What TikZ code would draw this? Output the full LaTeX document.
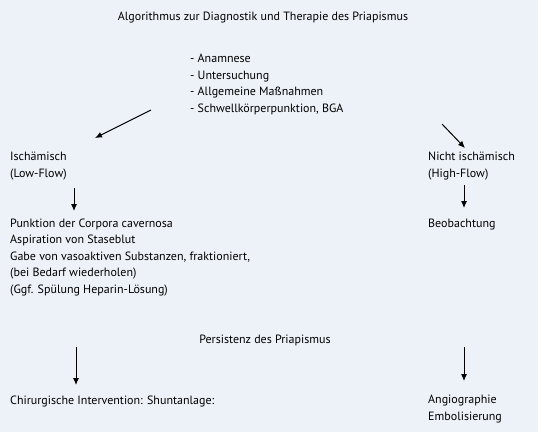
\documentclass[tikz,border=0pt]{standalone}
\usepackage{fontspec}
\setmainfont{PT Sans}
\usetikzlibrary{arrows.meta}
\definecolor{bg}{RGB}{237,242,249}
\tikzset{
  txt/.style={anchor=base west,inner sep=0pt,align=left,font=\fontsize{12}{16.5}\selectfont},
  ctxt/.style={anchor=base,inner sep=0pt,font=\fontsize{12}{16.5}\selectfont},
  arr/.style={-{Latex[length=7pt,width=6pt]},line width=1pt}
}
\begin{document}
\begin{tikzpicture}[x=1pt,y=-1pt]
\fill[bg] (0,0) rectangle (538,432);
\useasboundingbox (0,0) rectangle (538,432);

% multi-line nodes sit on the baseline of their last line
\node[ctxt] (title) at (263,20) {Algorithmus zur Diagnostik und Therapie des Priapismus};
\node[txt] (basis) at (190,112) {- Anamnese\\- Untersuchung\\- Allgemeine Maßnahmen\\- Schwellkörperpunktion, BGA};
\node[txt] (isch) at (10,177) {Ischämisch\\(Low-Flow)};
\node[txt] (nisch) at (428,177) {Nicht ischämisch\\(High-Flow)};
\node[txt] (punkt) at (10,293) {Punktion der Corpora cavernosa\\Aspiration von Staseblut\\Gabe von vasoaktiven Substanzen, fraktioniert,\\(bei Bedarf wiederholen)\\(Ggf. Spülung Heparin-Lösung)};
\node[txt] (beob) at (428,227) {Beobachtung};
\node[ctxt] (pers) at (265,343) {Persistenz des Priapismus};
\node[txt] (chir) at (10,404) {Chirurgische Intervention: Shuntanlage:};
\node[txt] (angio) at (428,420) {Angiographie\\Embolisierung};

\coordinate (l1) at (151,110);
\coordinate (l2) at (95,138);
\coordinate (r1) at (442,124);
\coordinate (r2) at (465,148);
\coordinate (l3) at (74,188);
\coordinate (l4) at (74,211);
\coordinate (r3) at (464,185);
\coordinate (r4) at (464,208);
\coordinate (l5) at (76,347);
\coordinate (l6) at (76,385);
\coordinate (r5) at (464,347);
\coordinate (r6) at (464,381);

\draw[arr] (l1)--(l2);
\draw[arr] (r1)--(r2);
\draw[arr] (l3)--(l4);
\draw[arr] (r3)--(r4);
\draw[arr] (l5)--(l6);
\draw[arr] (r5)--(r6);
\end{tikzpicture}
\end{document}
